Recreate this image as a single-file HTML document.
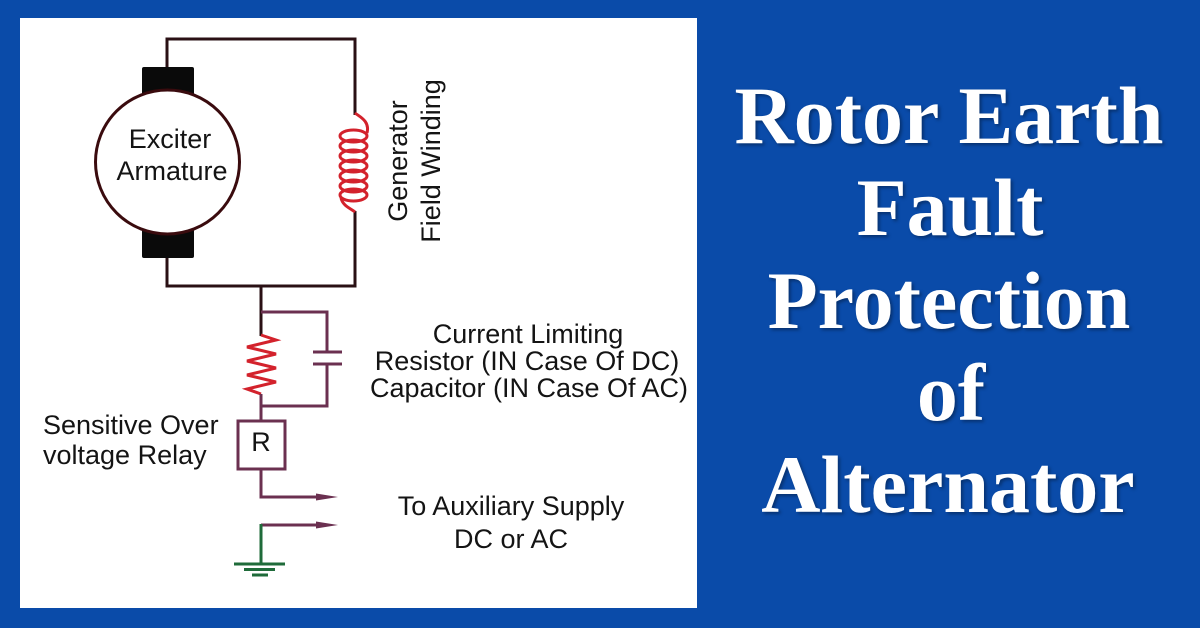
<!DOCTYPE html>
<html>
<head>
<meta charset="utf-8">
<style>
  html, body { margin:0; padding:0; width:1200px; height:628px; overflow:hidden; background:#0a4ba9; }
  svg { display:block; }
  .lbl { font-family:"Liberation Sans", Arial, sans-serif; font-size:27px; fill:#141414; }
  .ttl { font-family:"Liberation Serif", "Times New Roman", serif; font-weight:bold; font-size:82px; fill:#ffffff; }
</style>
</head>
<body>
<svg width="1200" height="628" viewBox="0 0 1200 628" xmlns="http://www.w3.org/2000/svg">
  <rect x="0" y="0" width="1200" height="628" fill="#0a4ba9"/>
  <rect x="20" y="18" width="677" height="590" fill="#ffffff"/>

  <!-- Top loop wiring (dark) -->
  <path d="M167,67 V39 H355 V115" fill="none" stroke="#2a1014" stroke-width="3"/>
  <path d="M355,211 V286 H167 V258" fill="none" stroke="#2a1014" stroke-width="3"/>

  <!-- Brushes -->
  <rect x="142" y="67" width="52" height="30" rx="2" fill="#0a0a0a"/>
  <rect x="142" y="229" width="52" height="29" rx="2" fill="#0a0a0a"/>
  <!-- Armature circle -->
  <circle cx="167.5" cy="162" r="72" fill="#ffffff" stroke="#3a0b0e" stroke-width="3"/>

  <!-- Field winding coil -->
  <g fill="none" stroke="#d3222c" stroke-width="3">
    <path d="M355,113 C360,117 370,121 367,133"/>
    <ellipse cx="353.5" cy="136" rx="13.5" ry="6"/>
    <ellipse cx="353.5" cy="146" rx="13.5" ry="6"/>
    <ellipse cx="353.5" cy="156" rx="13.5" ry="6"/>
    <ellipse cx="353.5" cy="166" rx="13.5" ry="6"/>
    <ellipse cx="353.5" cy="176" rx="13.5" ry="6"/>
    <ellipse cx="353.5" cy="186" rx="13.5" ry="6"/>
    <ellipse cx="353.5" cy="195" rx="13.5" ry="6"/>
    <path d="M341,198 C343,206 350,208 355,212"/>
  </g>

  <!-- Down lead to resistor -->
  <path d="M261,286 V336" fill="none" stroke="#2a1014" stroke-width="3"/>

  <!-- Resistor zigzag -->
  <polyline points="261,335 276,340 247,347 276,354 247,361 276,368 247,375 276,382 247,389 261,394"
            fill="none" stroke="#d3222c" stroke-width="3" stroke-linejoin="miter"/>

  <!-- Plum wiring -->
  <g fill="none" stroke="#6b3050" stroke-width="3">
    <path d="M261,312 H327 V352"/>
    <path d="M313,352 H342"/>
    <path d="M313,364 H342"/>
    <path d="M327,364 V406 H261"/>
    <path d="M261,394 V421"/>
    <rect x="238" y="421" width="47" height="48"/>
    <path d="M261,469 V497 H322"/>
    <path d="M261,525 H322"/>
  </g>
  <polygon points="316,493.5 338,497 316,500.5" fill="#6b3050"/>
  <polygon points="316,521.5 338,525 316,528.5" fill="#6b3050"/>

  <!-- Ground -->
  <g fill="none" stroke="#1f6b3a" stroke-width="3">
    <path d="M261,524 V564"/>
    <path d="M234,564 H285"/>
    <path d="M244,569.5 H275"/>
    <path d="M252,575 H268"/>
  </g>

  <!-- Labels -->
  <text class="lbl" x="170" y="148" text-anchor="middle">Exciter</text>
  <text class="lbl" x="172" y="180" text-anchor="middle">Armature</text>
  <text class="lbl" x="261" y="451" text-anchor="middle">R</text>

  <text class="lbl" transform="translate(407,161) rotate(-90)" text-anchor="middle">Generator</text>
  <text class="lbl" transform="translate(440,161) rotate(-90)" text-anchor="middle">Field Winding</text>

  <text class="lbl" x="528" y="343" text-anchor="middle">Current Limiting</text>
  <text class="lbl" x="527" y="370" text-anchor="middle">Resistor (IN Case Of DC)</text>
  <text class="lbl" x="529" y="397" text-anchor="middle">Capacitor (IN Case Of AC)</text>

  <text class="lbl" x="43" y="434">Sensitive Over</text>
  <text class="lbl" x="43" y="464">voltage Relay</text>

  <text class="lbl" x="511" y="515" text-anchor="middle">To Auxiliary Supply</text>
  <text class="lbl" x="511" y="548" text-anchor="middle">DC or AC</text>

  <!-- Title -->
  <g style="filter:drop-shadow(2px 2px 1.5px rgba(0,0,0,0.35))">
    <text class="ttl" x="949" y="143" text-anchor="middle">Rotor Earth</text>
    <text class="ttl" x="950" y="235" text-anchor="middle">Fault</text>
    <text class="ttl" x="949" y="328" text-anchor="middle">Protection</text>
    <text class="ttl" x="951" y="420" text-anchor="middle">of</text>
    <text class="ttl" x="948" y="512" text-anchor="middle">Alternator</text>
  </g>
</svg>
</body>
</html>
